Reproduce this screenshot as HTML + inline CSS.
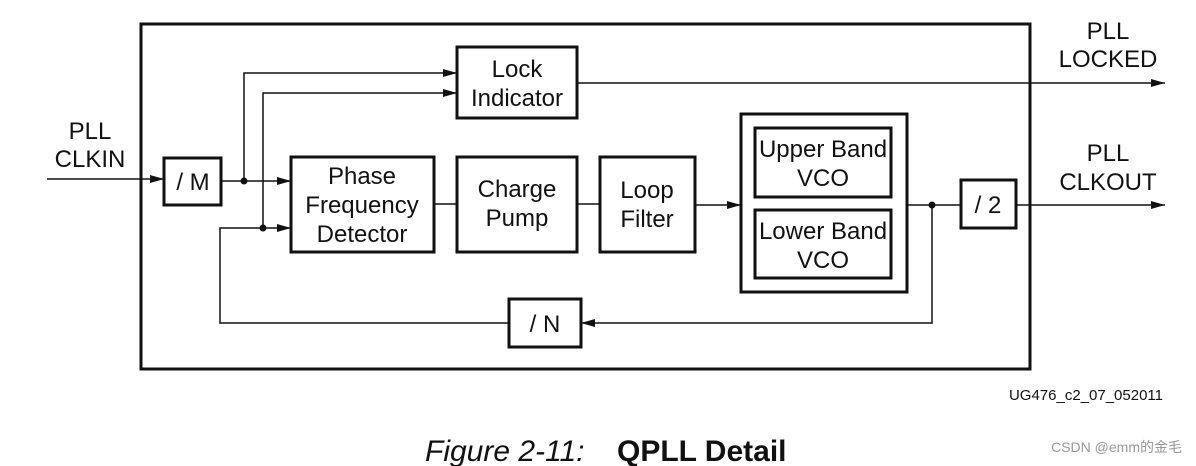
<!DOCTYPE html>
<html><head><meta charset="utf-8"><style>
body{margin:0;background:#fff;}
svg{display:block;font-family:"Liberation Sans",Arial,sans-serif;}
</style></head><body>
<svg width="1196" height="466" viewBox="0 0 1196 466" xmlns="http://www.w3.org/2000/svg">
<defs>
<marker id="a" markerWidth="14" markerHeight="8" refX="14" refY="4" orient="auto" markerUnits="userSpaceOnUse">
<path d="M0,0 L14,4 L0,8 z" fill="#111"/></marker>
</defs>
<g fill="none" stroke="#111">
<rect x="141" y="24" width="889" height="345" stroke-width="3"/>
<g stroke-width="3">
<rect x="164" y="158" width="57" height="47"/>
<rect x="291" y="157" width="143" height="95"/>
<rect x="457" y="157" width="120" height="95"/>
<rect x="457" y="47" width="120" height="71"/>
<rect x="600" y="157" width="95" height="95"/>
<rect x="741" y="114" width="166" height="178"/>
<rect x="755" y="128" width="136" height="69"/>
<rect x="755" y="210" width="136" height="68"/>
<rect x="961" y="180" width="55" height="48"/>
<rect x="509" y="299" width="72" height="48"/>
</g>
<g stroke-width="1.5">
<line x1="47" y1="179" x2="164" y2="179" marker-end="url(#a)"/>
<line x1="221" y1="181" x2="291" y2="181" marker-end="url(#a)"/>
<polyline points="244,181 244,73 457,73" marker-end="url(#a)"/>
<polyline points="263,228 263,93 457,93" marker-end="url(#a)"/>
<polyline points="509,323 220,323 220,228 291,228" marker-end="url(#a)"/>
<line x1="434" y1="204" x2="457" y2="204"/>
<line x1="577" y1="204" x2="600" y2="204"/>
<line x1="695" y1="205" x2="741" y2="205" marker-end="url(#a)"/>
<line x1="907" y1="205" x2="961" y2="205"/>
<polyline points="932,205 932,323 581,323" marker-end="url(#a)"/>
<line x1="577" y1="83" x2="1165" y2="83" marker-end="url(#a)"/>
<line x1="1016" y1="205" x2="1165" y2="205" marker-end="url(#a)"/>
</g>
</g>
<g fill="#111">
<circle cx="244" cy="181" r="3.5"/>
<circle cx="263" cy="228" r="3.5"/>
<circle cx="932" cy="205" r="3.5"/>
</g>
<g font-size="24" text-anchor="middle" fill="#111">
<text x="90" y="139">PLL</text><text x="90" y="167">CLKIN</text>
<text x="1108" y="39">PLL</text><text x="1108" y="67">LOCKED</text>
<text x="1108" y="161">PLL</text><text x="1108" y="190">CLKOUT</text>
<text x="193" y="190">/ M</text>
<text x="362" y="184">Phase</text><text x="362" y="213">Frequency</text><text x="362" y="242">Detector</text>
<text x="517" y="197">Charge</text><text x="517" y="226">Pump</text>
<text x="517" y="77">Lock</text><text x="517" y="106">Indicator</text>
<text x="647" y="198">Loop</text><text x="647" y="227">Filter</text>
<text x="823" y="157">Upper Band</text><text x="823" y="186">VCO</text>
<text x="823" y="239">Lower Band</text><text x="823" y="268">VCO</text>
<text x="988" y="213">/ 2</text>
<text x="545" y="332">/ N</text>
</g>
<text x="1163" y="400" font-size="15" text-anchor="end" fill="#111">UG476_c2_07_052011</text>
<text x="425" y="461" font-size="30" font-style="italic" fill="#111">Figure 2-11:</text>
<text x="617" y="461" font-size="30" font-weight="bold" fill="#111">QPLL Detail</text>
<text x="1182" y="452" font-size="14" text-anchor="end" fill="#999" font-family="'Liberation Sans','Noto Sans CJK SC',sans-serif">CSDN @emm的金毛</text>
</svg>
</body></html>
